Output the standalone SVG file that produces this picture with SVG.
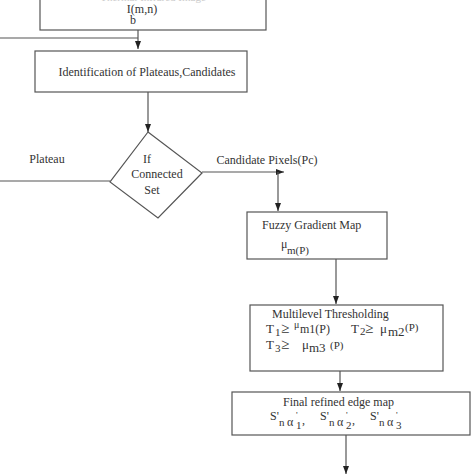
<svg xmlns="http://www.w3.org/2000/svg" width="474" height="474" viewBox="0 0 474 474">
<style>
.box{fill:#fff;stroke:#555;stroke-width:1.2}
.ln{fill:none;stroke:#555;stroke-width:1.2}
text{font-family:"Liberation Serif","Times New Roman",serif;font-size:12px;fill:#333}
.eq{font-size:13px}
.sub{font-size:11px}
.ge{font-size:15px}
</style>
<defs>
<marker id="ah" viewBox="0 0 8 8" refX="8" refY="4" markerWidth="8" markerHeight="8" markerUnits="userSpaceOnUse" orient="auto">
<path d="M0,1 L8,4 L0,7 Z" fill="#222"/>
</marker>
</defs>
<rect width="474" height="474" fill="#fff"/>
<g id="connectors">
<path class="ln" d="M0,38 H138"/>
<path class="ln" d="M138,30 V49" marker-end="url(#ah)"/>
<path class="ln" d="M148,92 V132" marker-end="url(#ah)"/>
<path class="ln" d="M0,181 H110"/>
<path class="ln" d="M202,172 H284" marker-end="url(#ah)"/>
<path class="ln" d="M278,172 V211" marker-end="url(#ah)"/>
<path class="ln" d="M336,259 V304" marker-end="url(#ah)"/>
<path class="ln" d="M340,371 V391" marker-end="url(#ah)"/>
<path class="ln" d="M346,435 V474" marker-end="url(#ah)"/>
</g>
<g id="input">
<rect class="box" x="40" y="-20" width="226" height="50"/>
<text x="153" y="1" text-anchor="middle" style="fill:#ccc;font-size:11px">Thermal Infrared Image</text>
<text x="142" y="13" text-anchor="middle">I(m,n)</text>
<text x="133" y="24" text-anchor="middle">b</text>
</g>
<g id="identification">
<rect class="box" x="35" y="51" width="212" height="41"/>
<text x="147" y="76" text-anchor="middle">Identification of Plateaus,Candidates</text>
</g>
<g id="decision">
<path class="box" d="M148,132 L202,173 L158,218 L110,182 Z"/>
<text x="147" y="163" text-anchor="middle">If</text>
<text x="157" y="178" text-anchor="middle">Connected</text>
<text x="152" y="194" text-anchor="middle">Set</text>
</g>
<g id="labels">
<text x="47" y="163" text-anchor="middle">Plateau</text>
<text x="267" y="164" text-anchor="middle">Candidate Pixels(Pc)</text>
</g>
<g id="fuzzy">
<rect class="box" x="247" y="212" width="140" height="47"/>
<text x="262" y="229">Fuzzy Gradient Map</text>
<text x="281" y="248">μ<tspan class="sub" x="287" y="254">m(P)</tspan></text>
</g>
<g id="threshold">
<rect class="box" x="250" y="305" width="193" height="66"/>
<text x="272" y="318">Multilevel Thresholding</text>
<text class="eq" x="266" y="333">T<tspan class="sub" x="275" y="336">1</tspan><tspan class="ge" x="281" y="333">≥</tspan><tspan x="294" y="328" style="font-size:10px">μ</tspan><tspan x="300" y="333" style="font-size:12px">m1(P)</tspan></text>
<text class="eq" x="351" y="333">T<tspan class="sub" x="360" y="335">2</tspan><tspan class="ge" x="365" y="333">≥</tspan><tspan x="380" y="333">μ</tspan><tspan x="388" y="336">m2</tspan><tspan class="sub" x="405" y="331">(P)</tspan></text>
<text class="eq" x="266" y="349">T<tspan class="sub" x="275" y="352">3</tspan><tspan class="ge" x="281" y="349">≥</tspan><tspan x="302" y="349">μ</tspan><tspan x="309" y="352">m3</tspan><tspan class="sub" x="330" y="349">(P)</tspan></text>
</g>
<g id="final">
<rect class="box" x="232" y="392" width="238" height="43"/>
<text x="283" y="406">Final refined edge map</text>
<text x="270" y="420">S'<tspan class="sub" x="279" y="426">n</tspan><tspan x="287" y="426">α</tspan><tspan x="296" y="418" style="font-size:9px">'</tspan><tspan class="sub" x="296" y="429">1</tspan><tspan x="302" y="424">,</tspan></text>
<text x="320" y="420">S'<tspan class="sub" x="329" y="426">n</tspan><tspan x="337" y="426">α</tspan><tspan x="346" y="418" style="font-size:9px">'</tspan><tspan class="sub" x="346" y="429">2</tspan><tspan x="352" y="424">,</tspan></text>
<text x="370" y="420">S'<tspan class="sub" x="379" y="426">n</tspan><tspan x="387" y="426">α</tspan><tspan x="396" y="418" style="font-size:9px">'</tspan><tspan class="sub" x="396" y="429">3</tspan></text>
</g>
</svg>
